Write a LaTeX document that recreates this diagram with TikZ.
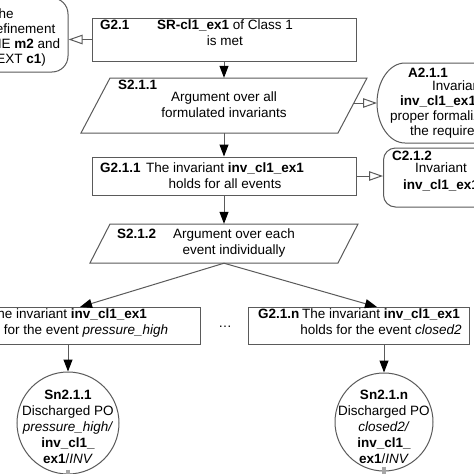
\documentclass[tikz,border=0pt]{standalone}
\usepackage{fontspec}
\setmainfont{Liberation Sans}
\usetikzlibrary{arrows.meta}
\definecolor{linec}{RGB}{90,90,90}
\tikzset{
  box/.style={draw=linec, line width=1pt, fill=white, inner sep=0pt},
  hid/.style={inner sep=0pt},
  conn/.style={draw=linec, line width=1pt, -{Triangle[length=12pt,width=9pt,fill=black,color=black]}},
  ctx/.style={draw=linec, line width=1pt, -{Triangle[open,length=14pt,width=9.5pt,fill=white,color=linec]}},
  txt/.style={font=\fontsize{13.5}{16}\selectfont, inner sep=0pt, align=center, anchor=base},
  txtw/.style={font=\fontsize{13.5}{16}\selectfont, inner sep=0pt, anchor=base west},
}
\begin{document}
\begin{tikzpicture}[x=1pt,y=-1pt]
\useasboundingbox (0,0) rectangle (474,474);
\fill[white] (0,0) rectangle (474,474);
\clip (0,0) rectangle (474,474);

% context top-left
\node[box, rounded corners=16pt, minimum width=150pt, minimum height=74pt] (c211) at (-7,35) {};
\node[txt, font=\fontsize{13.5}{15}\selectfont] (c211t) at (2,63) {The\\of the Refinement\\(MACHINE \textbf{m2} and\\CONTEXT \textbf{c1})};

% G2.1
\node[box, minimum width=264pt, minimum height=43pt] (g21) at (224,39.5) {};
\node[txtw] (g21id) at (100,29) {\bfseries G2.1};
\node[txt] (g21t) at (225,45) {\textbf{SR-cl1\_ex1} of Class 1\\is met};

% S2.1.1 parallelogram
\node[hid, minimum width=286pt, minimum height=55pt] (s211) at (224,105.5) {};
\draw[linec, line width=1pt, fill=white] (81,133) -- (110,78) -- (367,78) -- (338,133) -- cycle;
\coordinate (s211r) at (353,103);
\node[txtw] (s211id) at (118,89) {\bfseries S2.1.1};
\node[txt] (s211t) at (224,117) {Argument over all\\formulated invariants};

% A2.1.1 assumption
\node[hid, minimum width=223pt, minimum height=80pt, anchor=west] (a211) at (377,103) {};
\draw[linec, line width=1pt, fill=white] (600,63) -- (405,63) arc[start angle=270, end angle=90, x radius=28, y radius=40] -- (600,143);
\node[txtw] (a211id) at (408,77) {\bfseries A2.1.1};
\node[txtw] (a211l1) at (432,90) {Invariant};
\node[txtw] (a211l2) at (400,105) {\bfseries inv\_cl1\_ex1};
\node[txtw] (a211l3) at (390,120) {proper formalization};
\node[txtw] (a211l4) at (410,135) {the requirement};

% G2.1.1
\node[box, minimum width=264pt, minimum height=38pt] (g211) at (224,176) {};
\node[txtw] (g211id) at (100,172) {\bfseries G2.1.1};
\node[txt] (g211t) at (225,188) {The invariant \textbf{inv\_cl1\_ex1}\\holds for all events};

% C2.1.2
\node[box, rounded corners=12pt, minimum width=180pt, minimum height=59pt, anchor=west] (c212) at (383,177.5) {};
\node[txtw] (c212id) at (392,160) {\bfseries C2.1.2};
\node[txt, font=\fontsize{13.5}{17}\selectfont] (c212t) at (441,189) {Invariant\\\textbf{inv\_cl1\_ex1}};

% S2.1.2 parallelogram
\node[hid, minimum width=268pt, minimum height=39pt] (s212) at (224,243.5) {};
\draw[linec, line width=1pt, fill=white] (90,263) -- (110,224) -- (358,224) -- (338,263) -- cycle;
\node[txtw] (s212id) at (117,238) {\bfseries S2.1.2};
\node[txt] (s212t) at (234,254) {Argument over each\\event individually};

% G2.1.1.1 (left, cut)
\node[box, minimum width=265pt, minimum height=37pt] (g2111) at (67.5,325.5) {};
\coordinate (g2111in) at (80,307);
\node[txt] (g2111t) at (68,334) {The invariant \textbf{inv\_cl1\_ex1}\\holds for the event \textit{pressure\_high}};

% dots
\node[txt] (dots) at (225,327) {…};

% G2.1.n
\node[box, minimum width=221pt, minimum height=37pt] (g21n) at (358.5,325.5) {};
\coordinate (g21nin) at (377,307);
\node[txtw] (g21nid) at (258,318) {\bfseries G2.1.n};
\node[txt] (g21nt) at (381,334) {The invariant \textbf{inv\_cl1\_ex1}\\holds for the event \textit{closed2}};

% solutions
\node[box, circle, minimum size=102pt] (sn211) at (68,423) {};
\node[txt] (sn211t) at (68,463) {\textbf{Sn2.1.1}\\Discharged PO\\\textit{pressure\_high/}\\\textbf{inv\_cl1\_}\\\textbf{ex1}/\textit{INV}};
\node[box, circle, minimum size=98pt] (sn21n) at (384,422) {};
\node[txt] (sn21nt) at (384,463) {\textbf{Sn2.1.n}\\Discharged PO\\\textit{closed2/}\\\textbf{inv\_cl1\_}\\\textbf{ex1}/\textit{INV}};
\draw[gray!70, line width=3.5pt] ([yshift=5pt]sn211.south) -- ([yshift=-10pt]sn211.south);
\draw[gray!70, line width=3.5pt] ([yshift=5pt]sn21n.south) -- ([yshift=-10pt]sn21n.south);

% connectors
\draw[conn] (g21.south) -- (s211.north);
\draw[conn] (s211.south) -- (g211.north);
\draw[conn] (g211.south) -- (s212.north);
\draw[conn] (s212.south) -- (g2111in);
\draw[conn] (s212.south) -- (g21nin);
\draw[conn] (sn211.north |- g2111.south) -- (sn211.north);
\draw[conn] (sn21n.north |- g21n.south) -- (sn21n.north);
\draw[ctx] (g21.west) -- (c211.east |- g21.west);
\draw[ctx] (s211r) -- (a211.west);
\draw[ctx] (g211.east) -- (c212.west |- g211.east);
\end{tikzpicture}
\end{document}
